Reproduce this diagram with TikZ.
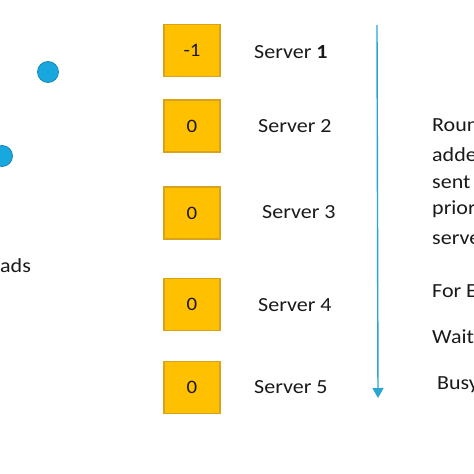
\documentclass[tikz,border=0pt]{standalone}
\usepackage{fontspec}
\setmainfont{Carlito}
\usetikzlibrary{arrows.meta}
\definecolor{boxfill}{HTML}{FFC000}
\definecolor{boxedge}{HTML}{D9A21B}
\definecolor{dotfill}{HTML}{18A7DF}
\definecolor{dotedge}{HTML}{1A86B5}
\definecolor{arrowblue}{HTML}{27A6D6}
\definecolor{txt}{HTML}{1A1A1A}
\newcommand{\widetxt}[1]{\scalebox{1.1}[1]{#1}}
\begin{document}
\begin{tikzpicture}[x=1pt,y=-1pt,
  valbox/.style={draw=boxedge, fill=boxfill, line width=1.3pt, minimum width=56pt, minimum height=52pt, inner sep=0pt, text=txt, font=\fontsize{19}{19}\selectfont},
  srvlabel/.style={anchor=base west, inner sep=0pt, text=txt, font=\fontsize{20}{20}\selectfont},
  desc/.style={anchor=base west, inner sep=0pt, text=txt, font=\fontsize{20}{20}\selectfont},
  dot/.style={circle, fill=dotfill, draw=dotedge, line width=0.8pt, minimum size=21pt, inner sep=0pt},
  flow/.style={draw=arrowblue, line width=1.4pt, -{Triangle[width=11pt,length=10pt]}}]
\useasboundingbox (0,0) rectangle (474,474);
\fill[white] (0,0) rectangle (474,474);
\begin{scope}
\clip (0,0) rectangle (474,474);
% dots
\node[dot] (d1) at (48,72) {};
\node[dot] (d2) at (2,156) {};
\node[desc] (ads) at (0,272) {\widetxt{ads}};
% boxes
\node[valbox] (b1) at (192,50.5) {\widetxt{-1}};
\node[valbox] (b2) at (192,126) {\widetxt{0}};
\node[valbox] (b3) at (192,213) {\widetxt{0}};
\node[valbox] (b4) at (192,304.5) {\widetxt{0}};
\node[valbox] (b5) at (192,387.5) {\widetxt{0}};
% server labels
\node[srvlabel] (s1) at (254,58) {\widetxt{Server \textbf{1}}};
\node[srvlabel] (s2) at (258,132) {\widetxt{Server 2}};
\node[srvlabel] (s3) at (262,218) {\widetxt{Server 3}};
\node[srvlabel] (s4) at (258,311) {\widetxt{Server 4}};
\node[srvlabel] (s5) at (254,393) {\widetxt{Server 5}};
% arrow
\coordinate (top) at (377,25);
\coordinate (tip) at (378,398);
\draw[flow] (top) -- (tip);
% right text
\node[desc] (t1) at (432,131) {\widetxt{Roun}};
\node[desc] (t2) at (432,161) {\widetxt{adde}};
\node[desc] (t3) at (432,188) {\widetxt{sent}};
\node[desc] (t4) at (432,214) {\widetxt{prior}};
\node[desc] (t5) at (432,244) {\widetxt{serve}};
\node[desc] (t6) at (432,297) {\widetxt{For E}};
\node[desc] (t7) at (432,343) {\widetxt{Wait}};
\node[desc] (t8) at (437,389) {\widetxt{Busy}};
\end{scope}
\end{tikzpicture}
\end{document}
